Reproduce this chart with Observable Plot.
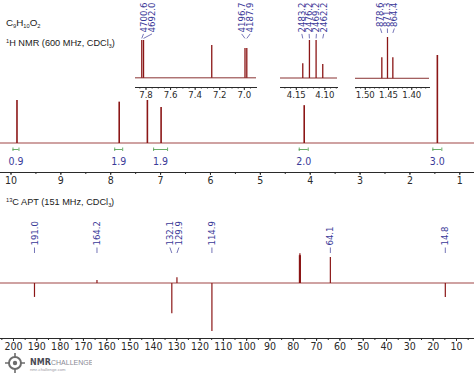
<!DOCTYPE html>
<html>
<head>
<meta charset="utf-8">
<script src="https://cdn.jsdelivr.net/npm/d3@7"></script>
<script src="https://cdn.jsdelivr.net/npm/@observablehq/plot@0.6"></script>
<style>
html,body{margin:0;padding:0;background:#fff;}
#chart{position:relative;width:474px;height:376px;overflow:hidden;background:#fff;font-family:"Liberation Sans",Arial,sans-serif;}
#chart > svg, #chart > .t {position:absolute;}
.t{white-space:nowrap;color:#1a1a1a;line-height:1;}
.t sub{font-size:0.58em;vertical-align:-0.35em;line-height:0;}
.t sup{font-size:0.62em;vertical-align:0.55em;line-height:0;}
</style>
</head>
<body>
<div id="chart"></div>
<script>
// ---------------- data ----------------
const spectrometerMHz = 600;

// 1H overview (ppm, relative height)
const h1Ppm = [9.88, 7.83, 7.265, 6.99, 4.12, 1.45];
const h1Height = [0.49, 0.47, 0.5, 0.41, 0.43, 1.0];
const h1Ticks = [10, 9, 8, 7, 6, 5, 4, 3, 2, 1];

// integrals
const integralFrom = [9.96, 7.92, 7.14, 4.22, 1.54];
const integralTo = [9.84, 7.76, 6.86, 4.04, 1.36];
const integralValue = ["0.9", "1.9", "1.9", "2.0", "3.0"];

// expansions (peak positions in Hz at 600 MHz)
const insetAHz = [4700.6, 4692.0, 4359.0, 4196.7, 4187.9];
const insetAHeight = [1.0, 1.0, 0.87, 0.79, 0.79];
const insetALabeled = [true, true, false, true, true];
const insetATicks = [7.8, 7.6, 7.4, 7.2, 7.0];

const insetBHz = [2483.2, 2476.2, 2469.2, 2462.2];
const insetBHeight = [0.39, 1.0, 1.0, 0.37];
const insetBTicks = [4.15, 4.10];

const insetCHz = [878.6, 871.3, 864.4];
const insetCHeight = [0.51, 1.0, 0.51];
const insetCTicks = [1.50, 1.45, 1.40];

// 13C APT (ppm, relative signed height)
const c13Ppm = [191.0, 164.2, 132.1, 129.9, 114.9, 77.37, 77.16, 76.95, 64.1, 14.8];
const c13Height = [-0.29, 0.06, -0.63, 0.12, -1.0, 0.58, 0.62, 0.58, 0.54, -0.29];
const c13Labeled = [true, true, true, true, true, false, false, false, true, true];
const c13Ticks = [200, 190, 180, 170, 160, 150, 140, 130, 120, 110, 100, 90, 80, 70, 60, 50, 40, 30, 20, 10];

// ---------------- drawing ----------------
const chart = document.getElementById("chart");
const AX = "#2a2a2a";
const PEAK = "#8b1616";
const BASE = "#a85858";
const NAVY = "#3a3a98";
const GREEN = "#5aa55a";
const FONT = "'DejaVu Sans Condensed','DejaVu Sans',sans-serif";

function place(node, left, top) {
  node.style.position = "absolute";
  node.style.left = left + "px";
  node.style.top = top + "px";
  chart.appendChild(node);
}
function addText(html, left, top, size) {
  const d = document.createElement("div");
  d.className = "t";
  d.innerHTML = html;
  d.style.fontSize = size + "px";
  place(d, left, top);
}
const ctx = document.createElement("canvas").getContext("2d");
function textWidth(s, size) {
  ctx.font = size + "px 'DejaVu Sans Condensed'";
  return ctx.measureText(s).width;
}
// spread label positions (px ascending) so they keep a minimum separation
function spread(px, sep, lo, hi) {
  const out = px.slice();
  const clusters = [];
  px.forEach((p, i) => {
    const last = clusters[clusters.length - 1];
    if (last && p - px[last[last.length - 1]] < sep) last.push(i); else clusters.push([i]);
  });
  for (const c of clusters) {
    const center = d3.mean(c, i => px[i]);
    let start = center - (c.length - 1) / 2 * sep;
    start = Math.min(Math.max(start, lo), hi - (c.length - 1) * sep);
    c.forEach((i, k) => out[i] = start + k * sep);
  }
  return out;
}
const fmt1 = d3.format(".1f");
// thin filled band along y = 0 (baseline), thickness in px
function baseline(domain, ys, fill, thick) {
  const y0 = ys(0);
  return Plot.rect([0], {x1: () => domain[0], x2: () => domain[1],
    y1: () => ys.invert(y0 - thick / 2), y2: () => ys.invert(y0 + thick / 2), fill});
}
function hband(data, x1, x2, ys, ypx, fill, thick) {
  return Plot.rect(data, {x1, x2, y1: () => ys.invert(ypx - thick / 2), y2: () => ys.invert(ypx + thick / 2), fill});
}

// ---- 1H overview ----
{
  const xs = d3.scaleLinear([10.2105, 0.7052], [0, 474]);
  const ys = d3.scaleLinear([0, 1], [143, 55]);
  const peaks = h1Ppm.map((p, i) => ({ppm: p, h: h1Height[i]}));
  const integrals = integralValue.map((v, i) => ({a: integralFrom[i], b: integralTo[i], v, c: (integralFrom[i] + integralTo[i]) / 2}));
  const minor = d3.range(1, 10.01, 0.5);
  const svg = Plot.plot({
    width: 474, height: 190, marginTop: 0, marginLeft: 0, marginRight: 0, marginBottom: 18,
    x: {domain: xs.domain(), range: xs.range()},
    y: {domain: ys.domain(), range: ys.range(), axis: null},
    style: {fontFamily: FONT, fontSize: "10px", color: AX, background: "transparent", overflow: "visible"},
    marks: [
      baseline(xs.domain(), ys, BASE, 1.1),
      Plot.ruleX(peaks, {x: "ppm", y1: () => 0, y2: "h", stroke: PEAK, strokeWidth: 1.6}),
      hband(integrals, "a", "b", ys, 149.5, GREEN, 0.9),
      Plot.ruleX(integrals, {x: "a", y1: () => ys.invert(147.5), y2: () => ys.invert(151), stroke: GREEN, strokeWidth: 0.9}),
      Plot.ruleX(integrals, {x: "b", y1: () => ys.invert(147.5), y2: () => ys.invert(151), stroke: GREEN, strokeWidth: 0.9}),
      Plot.text(integrals, {x: "c", y: () => ys.invert(161), text: "v", fill: NAVY, fontSize: 10.5}),
      Plot.frame({anchor: "bottom", stroke: AX}),
      Plot.axisX({ticks: minor, tickSize: 2, tickFormat: () => "", label: null}),
      Plot.axisX({ticks: h1Ticks, tickSize: 3, tickPadding: 1, tickFormat: d => String(d), label: null, fontSize: 10.5})
    ]
  });
  place(svg, 0, 0);
}

// ---- 1H expansions ----
function drawInset(cfg) {
  const {hz, height, labeled, ticks, minorStep, svgLeft, width, domain, pxRange, base, top, sep, tickFmt} = cfg;
  const ppm = hz.map(h => h / spectrometerMHz);
  const xs = d3.scaleLinear(domain, pxRange);
  const ys = d3.scaleLinear([0, 1], [base, top]);
  const peaks = ppm.map((p, i) => ({ppm: p, h: height[i]}));
  const lab = hz.map((h, i) => ({hz: h, ppm: ppm[i], px: xs(ppm[i]), on: labeled ? labeled[i] : true})).filter(d => d.on);
  const lx = spread(lab.map(d => d.px), sep, pxRange[0] + 8, pxRange[1] - 4);
  lab.forEach((d, i) => {
    d.lppm = xs.invert(lx[i]);
    d.txt = fmt1(d.hz);
    d.bottom = 2 + textWidth(d.txt, 9.5);
  });
  const lo = Math.min(domain[0], domain[1]), hi = Math.max(domain[0], domain[1]);
  const minor = d3.range(Math.ceil(lo / minorStep) * minorStep, hi, minorStep);
  const svg = Plot.plot({
    width, height: 100, marginTop: 0, marginBottom: 13,
    marginLeft: pxRange[0] - svgLeft, marginRight: svgLeft + width - pxRange[1],
    x: {domain, range: [pxRange[0] - svgLeft, pxRange[1] - svgLeft]},
    y: {domain: [0, 1], range: [base, top], axis: null},
    style: {fontFamily: FONT, fontSize: "9.5px", color: AX, background: "#fff", overflow: "visible"},
    marks: [
      Plot.frame({anchor: "bottom", stroke: AX}),
      Plot.axisX({ticks: minor, tickSize: 1.5, tickFormat: () => "", label: null}),
      Plot.axisX({ticks, tickSize: 3, tickPadding: 1, tickFormat: tickFmt, label: null, fontSize: 9.5}),
      baseline(domain, ys, "#944646", 1.1),
      Plot.ruleX(peaks, {x: "ppm", y1: () => 0, y2: "h", stroke: PEAK, strokeWidth: 1.3}),
      Plot.text(lab, {x: "lppm", y: () => ys.invert(2), text: "txt", rotate: -90, textAnchor: "end", fill: NAVY, fontSize: 9.5}),
      Plot.link(lab, {x1: "lppm", y1: d => ys.invert(d.bottom + 1.5), x2: "ppm", y2: d => ys.invert(d.bottom + 6), stroke: NAVY, strokeWidth: 0.7})
    ]
  });
  place(svg, svgLeft, 0);
}
drawInset({hz: insetAHz, height: insetAHeight, labeled: insetALabeled, ticks: insetATicks, minorStep: 0.05,
  svgLeft: 128, width: 132, domain: [7.8854, 6.9009], pxRange: [135, 256], base: 77.8, top: 40, sep: 8.5, tickFmt: d3.format(".1f")});
drawInset({hz: insetBHz, height: insetBHeight, ticks: insetBTicks, minorStep: 0.01,
  svgLeft: 272, width: 70, domain: [4.17767, 4.07785], pxRange: [280, 337], base: 78, top: 40, sep: 7.3, tickFmt: d3.format(".2f")});
drawInset({hz: insetCHz, height: insetCHeight, ticks: insetCTicks, minorStep: 0.01,
  svgLeft: 348, width: 86, domain: [1.52097, 1.36183], pxRange: [355, 429], base: 78.3, top: 37, sep: 7, tickFmt: d3.format(".2f")});

// ---- 13C APT ----
{
  const top = 190;
  const xs = d3.scaleLinear([205.576, 2.28], [0, 474]);
  const ys = d3.scaleLinear([0, -1], [283 - top, 331 - top]);
  const peaks = c13Ppm.map((p, i) => ({ppm: p, h: c13Height[i]}));
  const lab = c13Ppm.map((p, i) => ({ppm: p, px: xs(p), on: c13Labeled[i]})).filter(d => d.on).sort((a, b) => a.px - b.px);
  const lx = spread(lab.map(d => d.px), 9, 6, 468);
  lab.forEach((d, i) => { d.lppm = xs.invert(lx[i]); d.txt = fmt1(d.ppm); });
  const minor = d3.range(5, 206, 5);
  const svg = Plot.plot({
    width: 474, height: 165, marginTop: 0, marginLeft: 0, marginRight: 0, marginBottom: 17,
    x: {domain: xs.domain(), range: xs.range()},
    y: {domain: ys.domain(), range: ys.range(), axis: null},
    style: {fontFamily: FONT, fontSize: "10px", color: AX, background: "transparent", overflow: "visible"},
    marks: [
      baseline(xs.domain(), ys, BASE, 1.1),
      Plot.ruleX(peaks, {x: "ppm", y1: () => 0, y2: "h", stroke: PEAK, strokeWidth: 1.2}),
      Plot.text(lab, {x: "lppm", y: () => ys.invert(245 - top), text: "txt", rotate: -90, textAnchor: "start", fill: NAVY, fontSize: 9.5}),
      Plot.link(lab, {x1: "lppm", y1: () => ys.invert(247 - top), x2: "ppm", y2: () => ys.invert(252.5 - top), stroke: NAVY, strokeWidth: 0.7}),
      Plot.frame({anchor: "bottom", stroke: AX}),
      Plot.axisX({ticks: minor, tickSize: 2, tickFormat: () => "", label: null}),
      Plot.axisX({ticks: c13Ticks, tickSize: 3, tickPadding: 1, tickFormat: d => String(d), label: null, fontSize: 10.5})
    ]
  });
  place(svg, 0, top);
}

// ---- titles (on top) ----
addText("C<sub>9</sub>H<sub>10</sub>O<sub>2</sub>", 6, 17.5, 9.8);
addText("<sup>1</sup>H NMR (600 MHz, CDCl<sub>3</sub>)", 6, 39, 9.2);
addText("<sup>13</sup>C APT (151 MHz, CDCl<sub>3</sub>)", 6, 198, 9.2);

// ---- watermark logo ----
{
  const g = d3.create("svg").attr("width", 90).attr("height", 26);
  g.append("circle").attr("cx", 13).attr("cy", 12).attr("r", 6).attr("fill", "none").attr("stroke", "#6d6d6d").attr("stroke-width", 2);
  g.append("circle").attr("cx", 13).attr("cy", 12).attr("r", 2.2).attr("fill", "#6d6d6d");
  g.append("path").attr("d", "M13 2V7M13 17V22M3 12H8M18 12H23").attr("stroke", "#6d6d6d").attr("stroke-width", 1.6);
  g.append("text").attr("x", 28).attr("y", 14).attr("font-family", "'DejaVu Sans'").attr("font-weight", "bold").attr("font-size", 8).attr("fill", "#4a4a55").text("NMR");
  g.append("text").attr("x", 49).attr("y", 14).attr("font-family", "'Liberation Sans Narrow','Liberation Sans'").attr("font-size", 7).attr("fill", "#8a8a95").text("CHALLENGE");
  g.append("text").attr("x", 28).attr("y", 20).attr("font-family", "'Liberation Sans'").attr("font-size", 4.2).attr("fill", "#9a9aa5").text("nmr-challenge.com");
  place(g.node(), 2, 351);
}
</script>
</body>
</html>
